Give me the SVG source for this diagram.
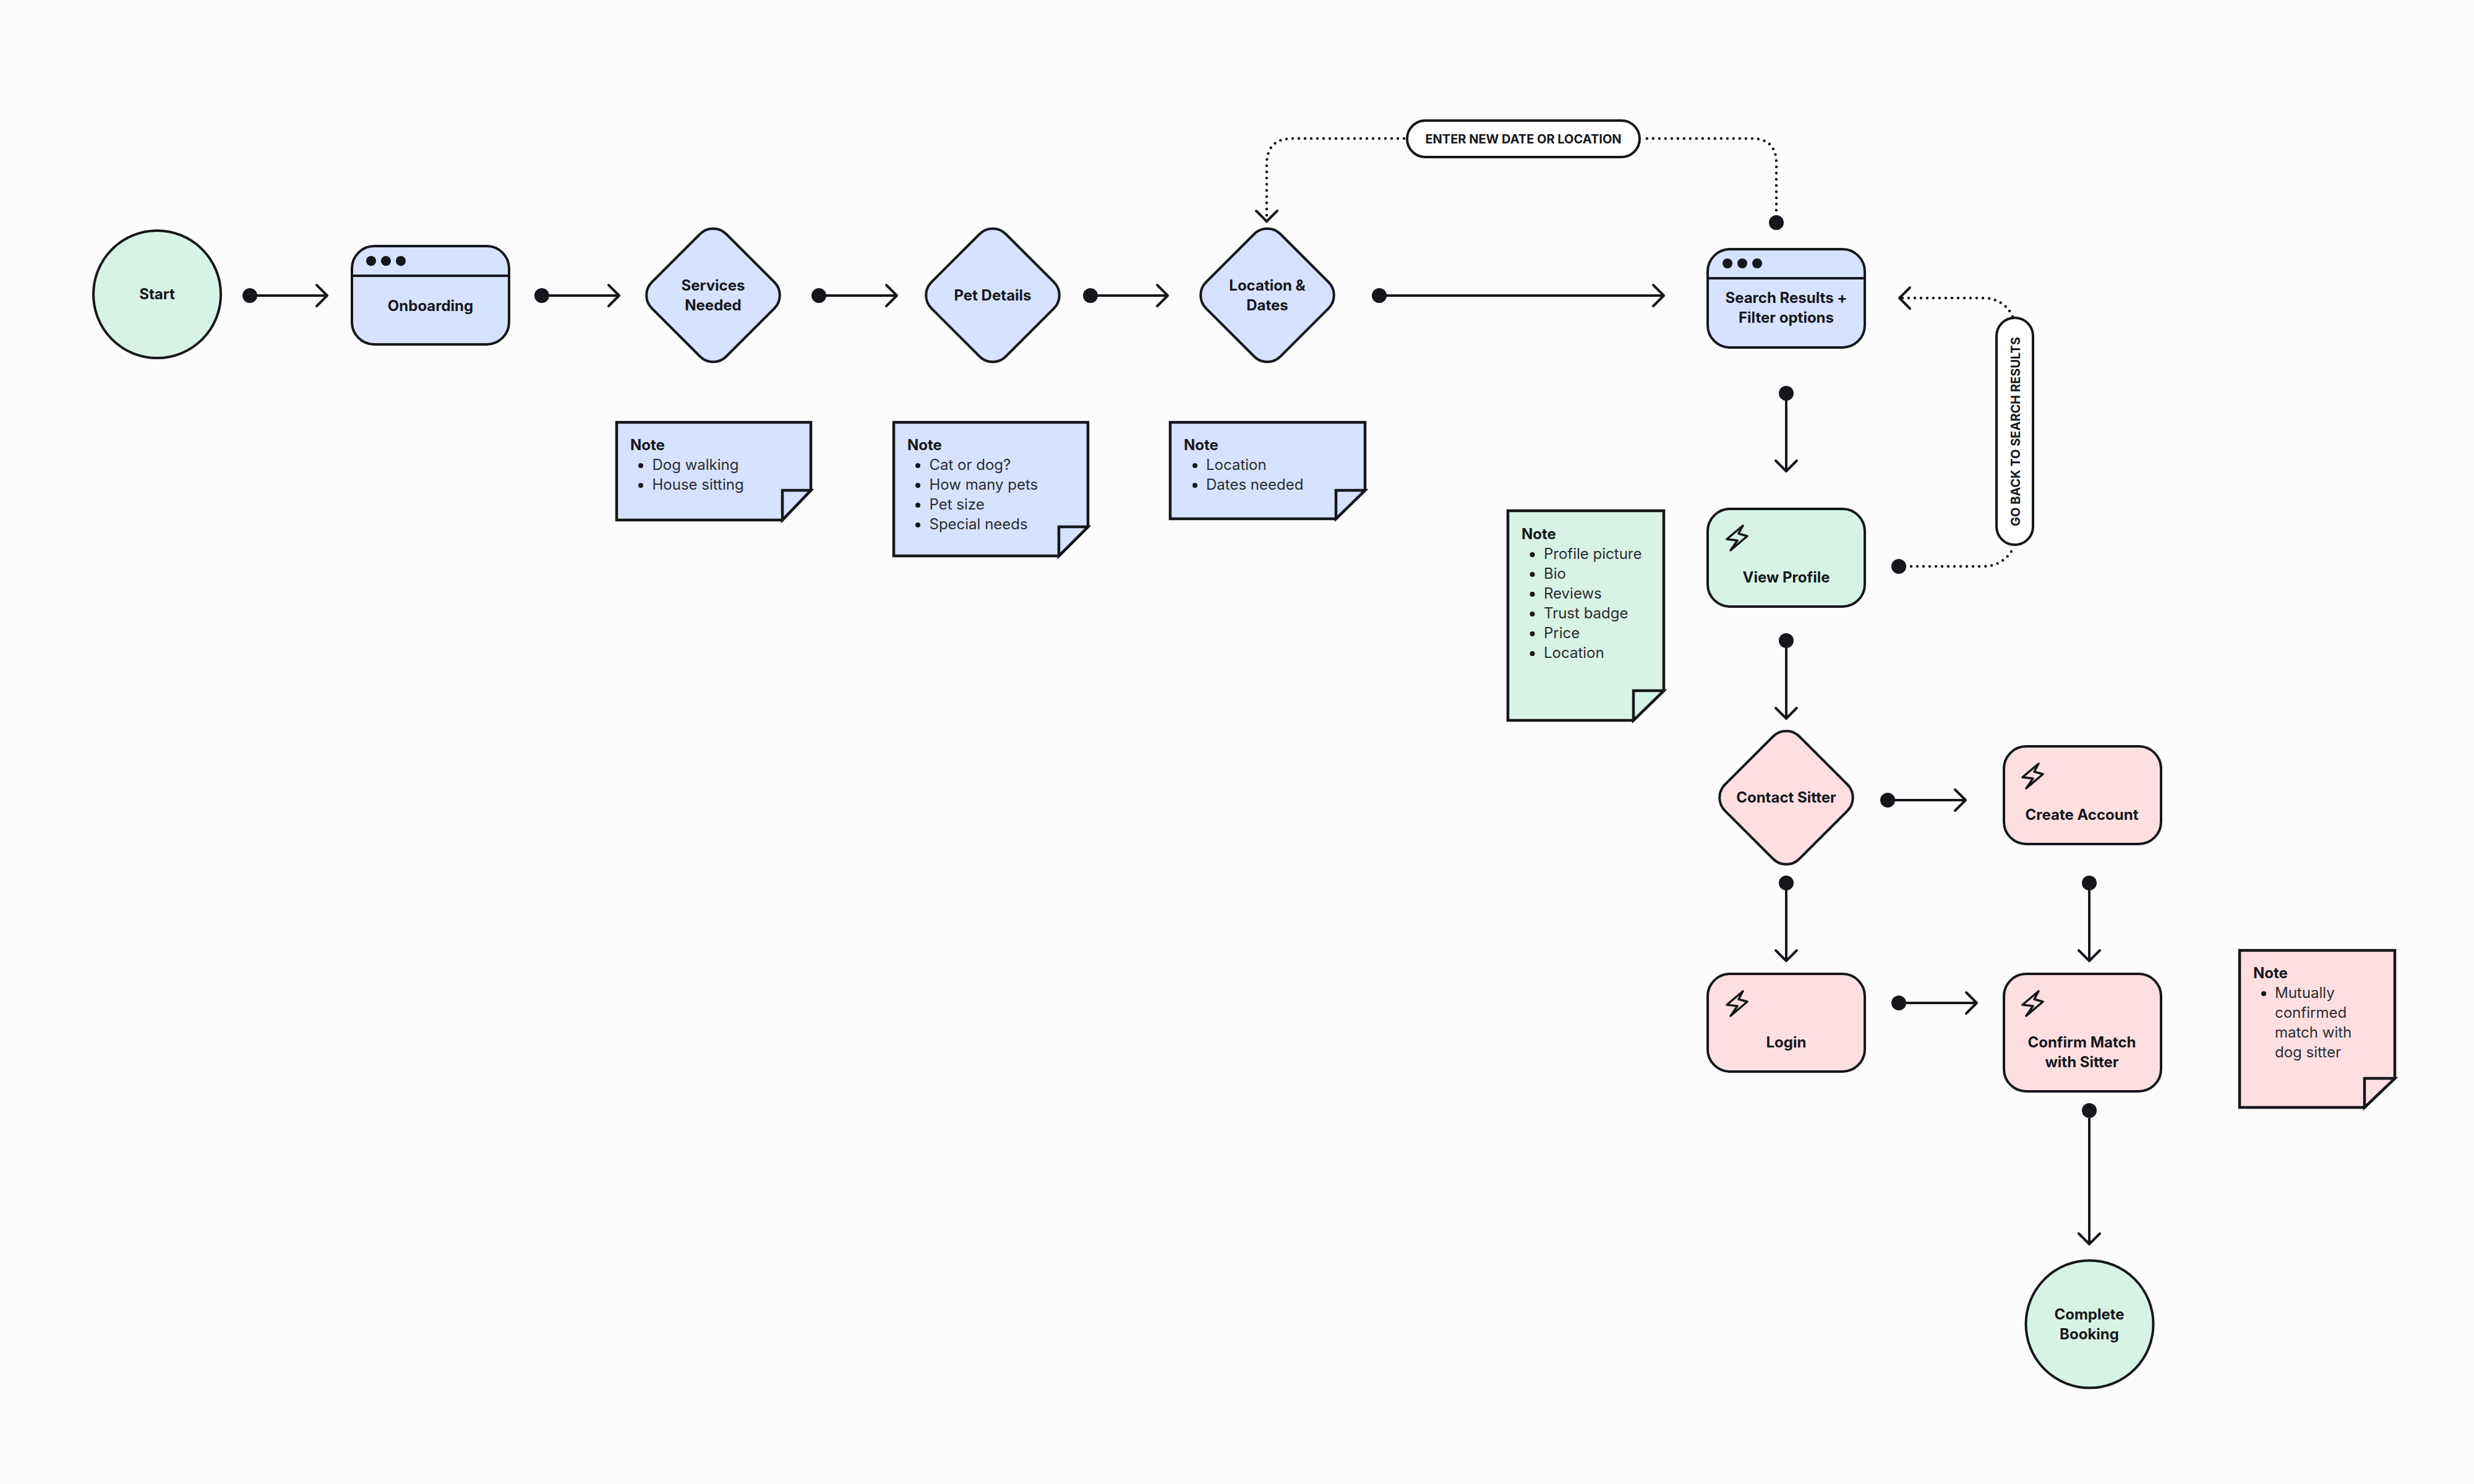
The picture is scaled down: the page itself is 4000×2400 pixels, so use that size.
<svg xmlns="http://www.w3.org/2000/svg" width="4000" height="2400" viewBox="0 0 4000 2400">
<style>
text{font-family:Inter,"Noto Sans","Liberation Sans",sans-serif;fill:#16171c}
.t{font-size:24px;font-weight:700;text-anchor:middle}
.n{font-size:24px;font-weight:400;fill:#2b2c31}
.nh{font-size:24px;font-weight:700}
.p{font-size:20px;font-weight:700;text-anchor:middle}
.s{stroke:#16171c;stroke-width:4}
.blue{fill:#d6e2fe}.green{fill:#d7f3e5}.pink{fill:#fedfe1}.white{fill:#fff}
.note{stroke:#16171c;stroke-width:4.5;stroke-linejoin:miter}
.bolt{fill:none;stroke:#16171c;stroke-width:3.5;stroke-linejoin:round;stroke-linecap:round}
.d{fill:#16171c}
.c{fill:none;stroke:#16171c;stroke-width:4}
.dot{fill:none;stroke:#16171c;stroke-width:4.5;stroke-linecap:round;stroke-dasharray:0 10}
.ah{fill:none;stroke:#16171c;stroke-width:4;stroke-linecap:round;stroke-linejoin:round}
</style>
<defs>
<marker id="end" markerUnits="userSpaceOnUse" markerWidth="60" markerHeight="60" refX="0" refY="0" orient="auto" viewBox="-30 -30 60 60"><path class="ah" d="M-17-17L0 0L-17 17"/></marker>
<marker id="start" markerUnits="userSpaceOnUse" markerWidth="30" markerHeight="30" refX="0" refY="0" orient="auto" viewBox="-15 -15 30 30"><circle class="d" r="12"/></marker>
<path id="b" class="bolt" d="M28 2L2 24L19 26L8 42L35 19L21 15Z"/>
</defs>
<rect width="4000" height="2400" fill="#fcfcfc"/>
<g id="connectors">
<path class="c" marker-start="url(#start)" marker-end="url(#end)" d="M404 478H529"/>
<path class="c" marker-start="url(#start)" marker-end="url(#end)" d="M876 478H1001"/>
<path class="c" marker-start="url(#start)" marker-end="url(#end)" d="M1324 478H1450"/>
<path class="c" marker-start="url(#start)" marker-end="url(#end)" d="M1763 478H1888"/>
<path class="c" marker-start="url(#start)" marker-end="url(#end)" d="M2230 478H2690"/>
<path class="c" marker-start="url(#start)" marker-end="url(#end)" d="M2888 636V762"/>
<path class="c" marker-start="url(#start)" marker-end="url(#end)" d="M2888 1036V1162"/>
<path class="c" marker-start="url(#start)" marker-end="url(#end)" d="M3052 1294H3178"/>
<path class="c" marker-start="url(#start)" marker-end="url(#end)" d="M2888 1428V1554"/>
<path class="c" marker-start="url(#start)" marker-end="url(#end)" d="M3378 1428V1554"/>
<path class="c" marker-start="url(#start)" marker-end="url(#end)" d="M3070 1622H3196"/>
<path class="c" marker-start="url(#start)" marker-end="url(#end)" d="M3378 1796V2012"/>
<path class="dot" marker-end="url(#end)" d="M2270 224H2090Q2048 224 2048 266V358"/>
<path class="dot" marker-start="url(#start)" d="M2872 360V264Q2872 224 2832 224H2656"/>
<path class="dot" marker-end="url(#end)" d="M3254 512Q3240 482 3205 482H3071"/>
<path class="dot" marker-start="url(#start)" d="M3070 916H3205Q3240 916 3256 885"/>
</g>
<g id="start-node"><circle class="s green" cx="254" cy="476" r="103"/><text class="t" x="254" y="484">Start</text></g>
<g id="onboarding"><rect class="s blue" x="569" y="398" width="254" height="159" rx="36"/><path class="s" d="M569 446H823"/><circle class="d" cx="600" cy="422" r="8"/><circle class="d" cx="624" cy="422" r="8"/><circle class="d" cx="648" cy="422" r="8"/><text class="t" x="696" y="503">Onboarding</text></g>
<g id="services"><rect class="s blue" x="-85" y="-85" width="170" height="170" rx="30" transform="translate(1153 477.5) rotate(45)"/><text class="t" x="1153" y="470">Services</text><text class="t" x="1153" y="502">Needed</text></g>
<g id="pet-details"><rect class="s blue" x="-85" y="-85" width="170" height="170" rx="30" transform="translate(1605 477.5) rotate(45)"/><text class="t" x="1605" y="486">Pet Details</text></g>
<g id="location"><rect class="s blue" x="-85" y="-85" width="170" height="170" rx="30" transform="translate(2049 477.5) rotate(45)"/><text class="t" x="2049" y="470">Location &amp;</text><text class="t" x="2049" y="502">Dates</text></g>
<g id="search"><rect class="s blue" x="2761" y="403" width="254" height="159" rx="36"/><path class="s" d="M2761 450H3015"/><circle class="d" cx="2793" cy="426" r="8"/><circle class="d" cx="2817" cy="426" r="8"/><circle class="d" cx="2841" cy="426" r="8"/><text class="t" x="2888" y="490">Search Results +</text><text class="t" x="2888" y="522">Filter options</text></g>
<g id="view-profile"><rect class="s green" x="2761" y="823" width="254" height="158" rx="36"/><use href="#b" x="2790" y="848"/><text class="t" x="2888" y="942">View Profile</text></g>
<g id="contact"><rect class="s pink" x="-85" y="-85" width="170" height="170" rx="30" transform="translate(2888 1290) rotate(45)"/><text class="t" x="2888" y="1298">Contact Sitter</text></g>
<g id="create-account"><rect class="s pink" x="3240" y="1207" width="254" height="158" rx="36"/><use href="#b" x="3268" y="1233"/><text class="t" x="3366" y="1326">Create Account</text></g>
<g id="login"><rect class="s pink" x="2761" y="1575" width="254" height="158" rx="36"/><use href="#b" x="2790" y="1601"/><text class="t" x="2888" y="1694">Login</text></g>
<g id="confirm"><rect class="s pink" x="3240" y="1575" width="254" height="190" rx="36"/><use href="#b" x="3268" y="1601"/><text class="t" x="3366" y="1694">Confirm Match</text><text class="t" x="3366" y="1726">with Sitter</text></g>
<g id="complete"><circle class="s green" cx="3378.5" cy="2141.5" r="103"/><text class="t" x="3378" y="2134">Complete</text><text class="t" x="3378" y="2166">Booking</text></g>
<g id="label-enter"><rect class="s white" x="2275" y="195" width="376" height="59" rx="29.5"/><text class="p" x="2463" y="232">ENTER NEW DATE OR LOCATION</text></g>
<g id="label-back"><rect class="s white" x="3228" y="514" width="59" height="367" rx="29.5"/><text class="p" transform="translate(3266 698) rotate(-90)">GO BACK TO SEARCH RESULTS</text></g>
<g id="note-services"><path class="note blue" d="M997 683H1311V793L1265 841H997Z"/><path class="note blue" d="M1311 793H1265V841Z"/><text class="nh" x="1019" y="728">Note</text><circle class="d" cx="1036" cy="753" r="4"/><text class="n" x="1054.5" y="760">Dog walking</text><circle class="d" cx="1036" cy="785" r="4"/><text class="n" x="1054.5" y="792">House sitting</text></g>
<g id="note-pet"><path class="note blue" d="M1445 683H1759V852L1712 899H1445Z"/><path class="note blue" d="M1759 852H1712V899Z"/><text class="nh" x="1467" y="728">Note</text><circle class="d" cx="1484" cy="753" r="4"/><text class="n" x="1502.5" y="760">Cat or dog?</text><circle class="d" cx="1484" cy="785" r="4"/><text class="n" x="1502.5" y="792">How many pets</text><circle class="d" cx="1484" cy="817" r="4"/><text class="n" x="1502.5" y="824">Pet size</text><circle class="d" cx="1484" cy="849" r="4"/><text class="n" x="1502.5" y="856">Special needs</text></g>
<g id="note-location"><path class="note blue" d="M1892 683H2207V793L2160 839H1892Z"/><path class="note blue" d="M2207 793H2160V839Z"/><text class="nh" x="1914" y="728">Note</text><circle class="d" cx="1932" cy="753" r="4"/><text class="n" x="1950" y="760">Location</text><circle class="d" cx="1932" cy="785" r="4"/><text class="n" x="1950" y="792">Dates needed</text></g>
<g id="note-profile"><path class="note green" d="M2438 826H2690V1117L2641 1165H2438Z"/><path class="note green" d="M2690 1117H2641V1165Z"/><text class="nh" x="2460" y="872">Note</text><circle class="d" cx="2477.5" cy="897" r="4"/><text class="n" x="2496" y="904">Profile picture</text><circle class="d" cx="2477.5" cy="929" r="4"/><text class="n" x="2496" y="936">Bio</text><circle class="d" cx="2477.5" cy="961" r="4"/><text class="n" x="2496" y="968">Reviews</text><circle class="d" cx="2477.5" cy="993" r="4"/><text class="n" x="2496" y="1000">Trust badge</text><circle class="d" cx="2477.5" cy="1025" r="4"/><text class="n" x="2496" y="1032">Price</text><circle class="d" cx="2477.5" cy="1057" r="4"/><text class="n" x="2496" y="1064">Location</text></g>
<g id="note-confirm"><path class="note pink" d="M3621 1537H3872V1744L3823 1791H3621Z"/><path class="note pink" d="M3872 1744H3823V1791Z"/><text class="nh" x="3643" y="1582">Note</text><circle class="d" cx="3660" cy="1607" r="4"/><text class="n" x="3678" y="1614">Mutually</text><text class="n" x="3678" y="1646">confirmed</text><text class="n" x="3678" y="1678">match with</text><text class="n" x="3678" y="1710">dog sitter</text></g>
</svg>
